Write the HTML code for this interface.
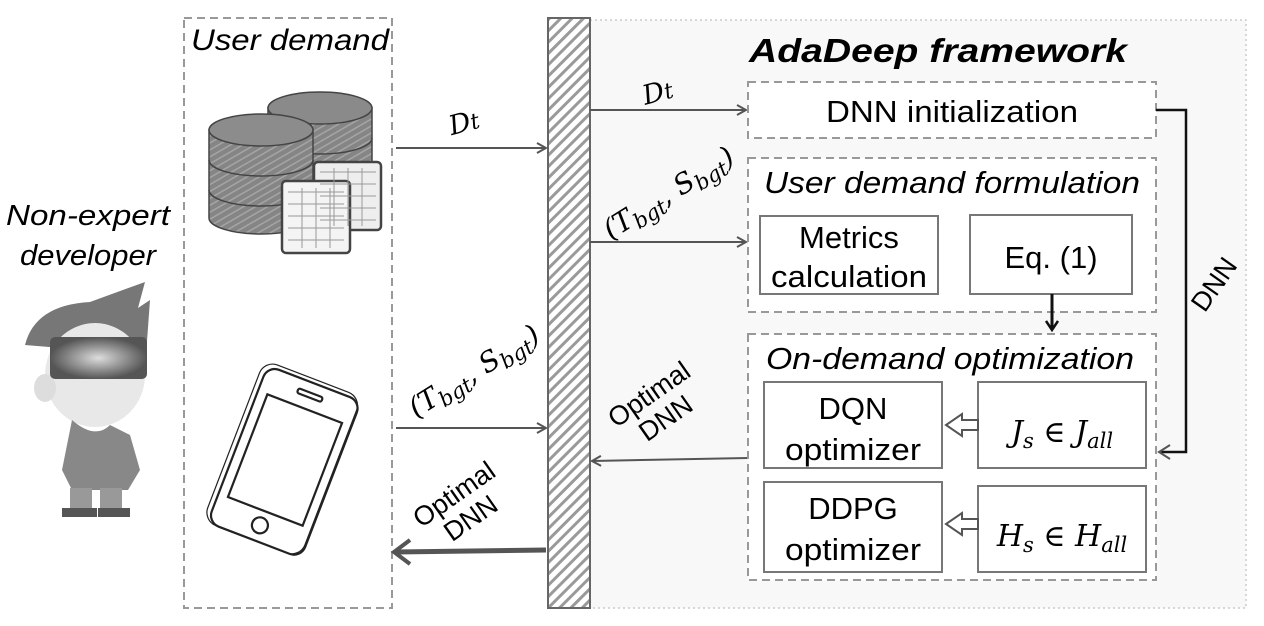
<!DOCTYPE html>
<html><head><meta charset="utf-8"><style>
body{margin:0;background:#fff}
svg text{font-family:"Liberation Sans",sans-serif}
.m{font-family:"DejaVu Serif","Liberation Serif",serif;font-style:italic}
</style></head><body>
<svg width="1264" height="621" viewBox="0 0 1264 621" xmlns="http://www.w3.org/2000/svg">
<defs>
<pattern id="h" width="8" height="8" patternUnits="userSpaceOnUse" patternTransform="rotate(45)">
<rect width="8" height="8" fill="#fff"/><rect width="3" height="8" fill="#9a9a9a"/></pattern>
<pattern id="dh" width="6" height="6" patternUnits="userSpaceOnUse" patternTransform="rotate(60)">
<rect width="6" height="6" fill="#858585"/><rect width="1.5" height="6" fill="#a5a5a5"/></pattern>
<marker id="a" markerWidth="12" markerHeight="12" refX="10" refY="6" orient="auto" markerUnits="userSpaceOnUse"><path d="M1,1 L10,6 L1,11" fill="none" stroke="#555" stroke-width="2"/></marker>
<marker id="ab" markerWidth="12" markerHeight="14" refX="10" refY="7" orient="auto" markerUnits="userSpaceOnUse"><path d="M1,1 L10,7 L1,13" fill="none" stroke="#111" stroke-width="2.5"/></marker>
<radialGradient id="g"><stop offset="0" stop-color="#ddd"/><stop offset="1" stop-color="#555"/></radialGradient>
</defs>
<rect x="590" y="20" width="656" height="588" fill="#f8f8f8" stroke="#ccc" stroke-width="1.5" stroke-dasharray="2,3"/>
<text x="938" y="62" font-size="33" font-weight="bold" font-style="italic" text-anchor="middle" textLength="378" lengthAdjust="spacingAndGlyphs">AdaDeep framework</text>
<rect x="184" y="18" width="208" height="590" fill="#fff" stroke="#999" stroke-width="2" stroke-dasharray="8,5"/>
<text x="290" y="50" font-size="30" font-style="italic" text-anchor="middle" textLength="198" lengthAdjust="spacingAndGlyphs">User demand</text>
<text x="88" y="225" font-size="29" font-style="italic" text-anchor="middle" textLength="164" lengthAdjust="spacingAndGlyphs">Non-expert</text>
<text x="88" y="265" font-size="29" font-style="italic" text-anchor="middle" textLength="136" lengthAdjust="spacingAndGlyphs">developer</text>
<g>
<path d="M25,345 Q35,305 90,302 L145,282 L138,308 L150,300 L146,355 Z" fill="#777"/>
<ellipse cx="95" cy="375" rx="50" ry="52" fill="#e8e8e8"/>
<ellipse cx="45" cy="388" rx="11" ry="14" fill="#ddd"/>
<rect x="50" y="337" width="97" height="42" rx="5" fill="url(#g)"/>
<path d="M72,420 Q95,440 110,425 L130,435 L140,470 L128,490 L72,490 L62,470 Z" fill="#888"/>
<rect x="70" y="488" width="22" height="25" fill="#999"/><rect x="100" y="488" width="22" height="25" fill="#999"/>
<rect x="62" y="508" width="35" height="9" fill="#555"/><rect x="98" y="508" width="32" height="9" fill="#555"/>
</g>
<g stroke="#444" stroke-width="1.5">
<path d="M268,108 L268,190 A52,16 0 0 0 372,190 L372,108 Z" fill="url(#dh)"/>
<ellipse cx="320" cy="108" rx="52" ry="16" fill="#8a8a8a"/>
<path d="M268,138 A52,16 0 0 0 372,138" fill="none"/>
<path d="M209,130 L209,218 A52,16 0 0 0 313,218 L313,130 Z" fill="url(#dh)"/>
<ellipse cx="261" cy="130" rx="52" ry="16" fill="#8c8c8c"/>
<path d="M209,160 A52,16 0 0 0 313,160 M209,190 A52,16 0 0 0 313,190" fill="none"/>
<rect x="314" y="162" width="67" height="68" rx="4" fill="#eee" stroke-width="2.5"/>
<rect x="282" y="181" width="68" height="72" rx="4" fill="#f4f4f4" stroke-width="2.5"/>
</g>
<g stroke="#999" stroke-width="1">
<path d="M320,172 h56 M320,184 h56 M320,196 h56 M320,208 h56 M320,220 h56 M334,168 v58 M348,168 v58 M362,168 v58"/>
<path d="M288,192 h56 M288,204 h56 M288,216 h56 M288,228 h56 M288,240 h56 M302,188 v60 M316,188 v60 M330,188 v60"/>
</g>
<g fill="none" stroke="#222" stroke-width="2.2" transform="rotate(21 285 460)">
<rect x="235" y="378" width="100" height="168" rx="12"/>
<rect x="230" y="374" width="104" height="172" rx="14" stroke-width="1.2"/>
<rect x="245" y="405" width="80" height="110" />
<circle cx="285" cy="530" r="8"/>
<rect x="272" y="388" width="26" height="5" rx="2"/>
</g>
<rect x="548" y="18" width="42" height="590" fill="url(#h)" stroke="#666" stroke-width="2"/>
<g stroke="#555" stroke-width="2" fill="none">
<line x1="396" y1="148" x2="546" y2="148" marker-end="url(#a)"/>
<line x1="396" y1="428" x2="546" y2="428" marker-end="url(#a)"/>
<line x1="590" y1="110" x2="746" y2="110" marker-end="url(#a)"/>
<line x1="590" y1="242" x2="746" y2="242" marker-end="url(#a)"/>
<line x1="748" y1="458" x2="592" y2="461" marker-end="url(#a)"/>
<line x1="938" y1="253" x2="968" y2="253" marker-end="url(#a)"/>
</g>
<line x1="546" y1="550" x2="396" y2="552" stroke="#555" stroke-width="5"/>
<path d="M410,540 L394,552 L410,564" fill="none" stroke="#555" stroke-width="4"/>
<text class="m" x="448" y="132" font-size="27" transform="rotate(-15 462 120)">D<tspan font-size="22">t</tspan></text>
<text class="m" x="642" y="100" font-size="27" transform="rotate(-15 662 90)">D<tspan font-size="22">t</tspan></text>
<text class="m" x="385" y="390" font-size="28" transform="rotate(-32 450 350)">(T<tspan font-size="21" dy="6">bgt</tspan><tspan dy="-6">, S</tspan><tspan font-size="21" dy="6">bgt</tspan><tspan dy="-6">)</tspan></text>
<text class="m" x="578" y="214" font-size="28" transform="rotate(-32 640 170)">(T<tspan font-size="21" dy="6">bgt</tspan><tspan dy="-6">, S</tspan><tspan font-size="21" dy="6">bgt</tspan><tspan dy="-6">)</tspan></text>
<g font-size="27" transform="rotate(-35 465 510)"><text x="465" y="500" text-anchor="middle">Optimal</text><text x="465" y="529" text-anchor="middle">DNN</text></g>
<g font-size="27" transform="rotate(-35 660 410)"><text x="660" y="400" text-anchor="middle">Optimal</text><text x="660" y="429" text-anchor="middle">DNN</text></g>
<g stroke="#999" stroke-width="2" stroke-dasharray="8,5" fill="#fff">
<rect x="748" y="82" width="408" height="56"/>
<rect x="748" y="158" width="408" height="154"/>
<rect x="748" y="334" width="408" height="246"/>
</g>
<text x="952" y="122" font-size="31" text-anchor="middle" textLength="252" lengthAdjust="spacingAndGlyphs">DNN initialization</text>
<text x="952" y="193" font-size="31" font-style="italic" text-anchor="middle" textLength="376" lengthAdjust="spacingAndGlyphs">User demand formulation</text>
<text x="950" y="369" font-size="31" font-style="italic" text-anchor="middle" textLength="368" lengthAdjust="spacingAndGlyphs">On-demand optimization</text>
<g stroke="#777" stroke-width="2" fill="#fff">
<rect x="760" y="216" width="178" height="78"/>
<rect x="970" y="215" width="162" height="79"/>
<rect x="764" y="382" width="178" height="86"/>
<rect x="978" y="382" width="168" height="86"/>
<rect x="764" y="482" width="178" height="90"/>
<rect x="978" y="486" width="168" height="86"/>
</g>
<g font-size="31" text-anchor="middle">
<text x="849" y="248">Metrics</text><text x="849" y="287" textLength="156" lengthAdjust="spacingAndGlyphs">calculation</text>
<text x="1051" y="268">Eq. (1)</text>
<text x="853" y="419">DQN</text><text x="853" y="460" textLength="136" lengthAdjust="spacingAndGlyphs">optimizer</text>
<text x="853" y="519">DDPG</text><text x="853" y="560" textLength="136" lengthAdjust="spacingAndGlyphs">optimizer</text>
</g>
<text class="m" x="1062" y="442" font-size="30" text-anchor="middle">J<tspan font-size="21" dy="6">s</tspan><tspan dy="-6" font-style="normal"> ∈ </tspan>J<tspan font-size="21" dy="6">all</tspan></text>
<text class="m" x="1062" y="546" font-size="30" text-anchor="middle">H<tspan font-size="21" dy="6">s</tspan><tspan dy="-6" font-style="normal"> ∈ </tspan>H<tspan font-size="21" dy="6">all</tspan></text>
<path d="M978,420 L962,420 L962,414 L946,425 L962,436 L962,430 L978,430 Z" fill="#fff" stroke="#555" stroke-width="2"/>
<path d="M978,519 L962,519 L962,513 L946,524 L962,535 L962,529 L978,529 Z" fill="#fff" stroke="#555" stroke-width="2"/>
<line x1="1052" y1="294" x2="1052" y2="330" stroke="#111" stroke-width="3" marker-end="url(#ab)"/>
<path d="M1156,110 L1186,110 L1186,452 L1160,452" fill="none" stroke="#111" stroke-width="2.5"/>
<path d="M1170,445 L1159,452 L1170,459" fill="none" stroke="#555" stroke-width="2"/>
<text x="1215" y="293" font-size="27" text-anchor="middle" transform="rotate(-55 1215 285)">DNN</text>
</svg>
</body></html>
